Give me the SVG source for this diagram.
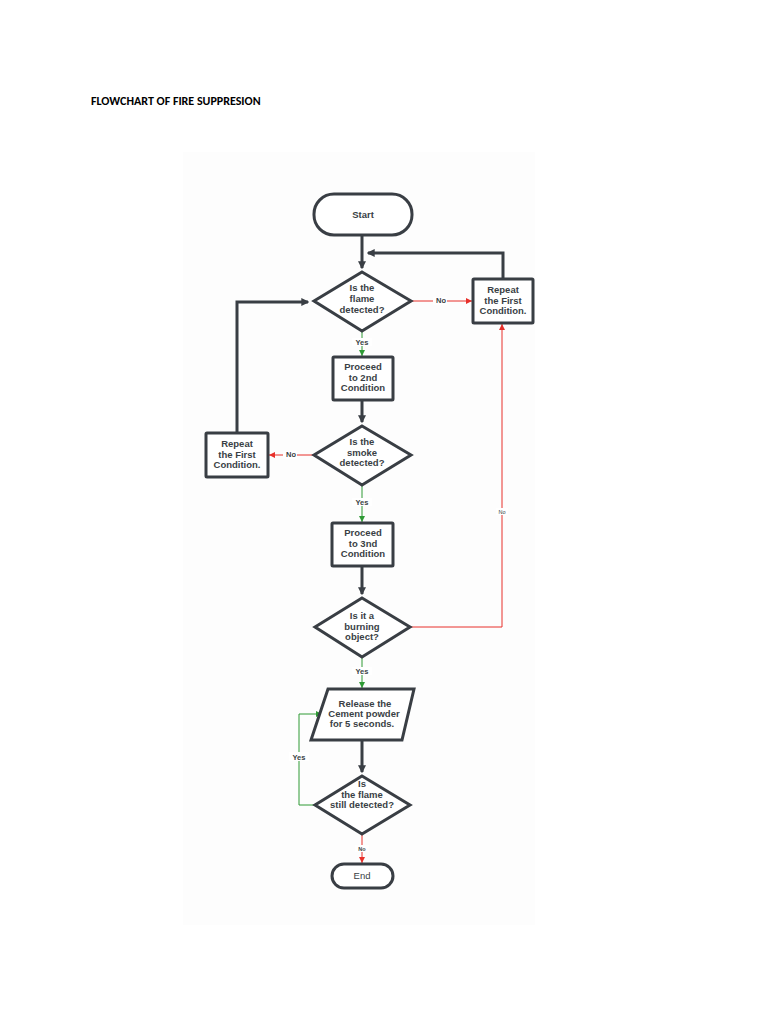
<svg xmlns="http://www.w3.org/2000/svg" width="768" height="1024" viewBox="0 0 768 1024">
<style>
.n{fill:#fff;stroke:#393e44;stroke-width:3}
.t{font-family:"Liberation Sans",Arial,sans-serif;font-weight:bold;font-size:9.5px;fill:#3a3f45;text-anchor:middle}
.l{font-family:"Liberation Sans",Arial,sans-serif;font-weight:bold;font-size:7.5px;fill:#3a3f45;text-anchor:middle}
.k{fill:none;stroke:#393e44;stroke-width:3}
.r{fill:none;stroke:#e8302a;stroke-width:1}
.g{fill:none;stroke:#2e9a35;stroke-width:1}
</style>
<defs>
<marker id="ak" markerWidth="8" markerHeight="8" refX="5" refY="3" orient="auto" markerUnits="userSpaceOnUse" viewBox="0 0 6 6"><path d="M0,0L6,3L0,6z" fill="#393e44"/></marker>
<marker id="ar" markerWidth="6" markerHeight="6" refX="6" refY="3" orient="auto" markerUnits="userSpaceOnUse" viewBox="0 0 6 6"><path d="M0,0L6,3L0,6z" fill="#e8302a"/></marker>
<marker id="ag" markerWidth="6" markerHeight="6" refX="6" refY="3" orient="auto" markerUnits="userSpaceOnUse" viewBox="0 0 6 6"><path d="M0,0L6,3L0,6z" fill="#2e9a35"/></marker>
</defs>
<rect width="768" height="1024" fill="#fff"/>
<rect x="183" y="152" width="352" height="773" fill="#fdfdfd"/>
<text x="91" y="105" font-family="Carlito,'Liberation Sans',sans-serif" font-weight="bold" font-size="12" fill="#000">FLOWCHART OF FIRE SUPPRESION</text>
<g id="connectors">
<path class="k" d="M362,235V268" marker-end="url(#ak)"/>
<path class="k" d="M503,279V253H368" marker-end="url(#ak)"/>
<path class="r" d="M411,301H472" marker-end="url(#ar)"/>
<rect x="433" y="297" width="14" height="8" fill="#fff"/><text class="l" x="441" y="303">No</text>
<path class="g" d="M362,331V356" marker-end="url(#ag)"/>
<rect x="352" y="338" width="20" height="8" fill="#fff"/><text class="l" x="362" y="345">Yes</text>
<path class="k" d="M362,400V422" marker-end="url(#ak)"/>
<path class="r" d="M314,455H269" marker-end="url(#ar)"/>
<rect x="283" y="451" width="14" height="8" fill="#fff"/><text class="l" x="291" y="457">No</text>
<path class="k" d="M237,433V302H308" marker-end="url(#ak)"/>
<path class="g" d="M362,485V522" marker-end="url(#ag)"/>
<rect x="352" y="498" width="20" height="8" fill="#fff"/><text class="l" x="362" y="505">Yes</text>
<path class="k" d="M362,566V594" marker-end="url(#ak)"/>
<path class="r" d="M410,627H502V324" marker-end="url(#ar)"/>
<rect x="496" y="508" width="12" height="7" fill="#fff"/><text x="502" y="514" font-family="Liberation Sans,sans-serif" font-size="5.5" text-anchor="middle" fill="#3a3f45">No</text>
<path class="g" d="M362,657V688" marker-end="url(#ag)"/>
<rect x="352" y="667" width="20" height="8" fill="#fff"/><text class="l" x="362" y="674">Yes</text>
<path class="k" d="M362,740V772" marker-end="url(#ak)"/>
<path class="g" d="M315,805H299V714H322" marker-end="url(#ag)"/>
<rect x="289" y="752" width="20" height="9" fill="#fff"/><text class="l" x="299" y="760">Yes</text>
<path class="r" d="M362,834V863" marker-end="url(#ar)"/>
<rect x="355" y="845" width="14" height="7" fill="#fff"/><text x="362" y="851" font-family="Liberation Sans,sans-serif" font-size="5.5" font-weight="bold" text-anchor="middle" fill="#3a3f45">No</text>
</g>
<g id="start"><rect class="n" x="314" y="194" width="98" height="41" rx="20"/><text class="t" x="363" y="218">Start</text></g>
<g id="d1"><path class="n" d="M362,272L411,301L362,331L314,301z"/><text class="t" x="362" y="291">Is the</text><text class="t" x="362" y="302">flame</text><text class="t" x="362" y="313">detected?</text></g>
<g id="r1"><rect class="n" x="473" y="279" width="60" height="44" rx="1"/><text class="t" x="503" y="293">Repeat</text><text class="t" x="503" y="304">the First</text><text class="t" x="503" y="314">Condition.</text></g>
<g id="p2"><rect class="n" x="333" y="357" width="60" height="43" rx="1"/><text class="t" x="363" y="370">Proceed</text><text class="t" x="363" y="381">to 2nd</text><text class="t" x="363" y="391">Condition</text></g>
<g id="d2"><path class="n" d="M362,426L411,455L362,485L314,455z"/><text class="t" x="362" y="445">Is the</text><text class="t" x="362" y="456">smoke</text><text class="t" x="362" y="466">detected?</text></g>
<g id="r2"><rect class="n" x="206" y="433" width="62" height="44" rx="1"/><text class="t" x="237" y="447">Repeat</text><text class="t" x="237" y="458">the First</text><text class="t" x="237" y="468">Condition.</text></g>
<g id="p3"><rect class="n" x="332" y="523" width="61" height="43" rx="1"/><text class="t" x="363" y="536">Proceed</text><text class="t" x="363" y="547">to 3nd</text><text class="t" x="363" y="557">Condition</text></g>
<g id="d3"><path class="n" d="M362,598L410,627L362,657L315,627z"/><text class="t" x="362" y="619">Is it a</text><text class="t" x="362" y="630">burning</text><text class="t" x="362" y="640">object?</text></g>
<g id="rel"><path class="n" d="M328,689H414L402,740H311z"/><text class="t" x="365" y="707">Release the</text><text class="t" x="364" y="717">Cement powder</text><text class="t" x="362" y="727">for 5 seconds.</text></g>
<g id="d4"><path class="n" d="M362,776L410,805L362,834L315,805z"/><text class="t" x="362" y="787">Is</text><text class="t" x="362" y="798">the flame</text><text class="t" x="362" y="808">still detected?</text></g>
<g id="end"><rect class="n" x="332" y="864" width="61" height="24" rx="12"/><text class="t" x="362" y="879" style="font-weight:normal">End</text></g>
</svg>
